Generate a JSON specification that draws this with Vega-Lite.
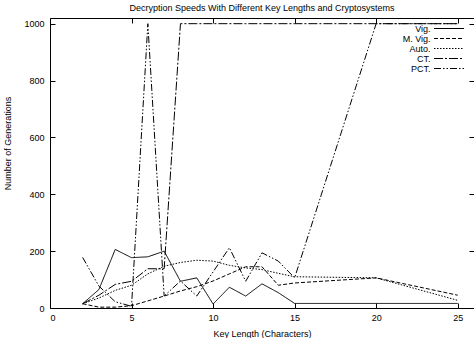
{
  "$schema": "https://vega.github.io/schema/vega-lite/v6.json",
  "width": 424,
  "height": 290,
  "autosize": {"type": "none"},
  "padding": {"left": 50, "top": 18, "right": 0, "bottom": 30},
  "title": {"text": "Decryption Speeds With Different Key Lengths and Cryptosystems", "fontSize": 9, "fontWeight": "normal", "font": "Liberation Sans", "offset": 5, "color": "black"},
  "data": {"values": [
    {"k":2,"series":"Vig.","v":15},{"k":3,"series":"Vig.","v":65},{"k":4,"series":"Vig.","v":206},{"k":5,"series":"Vig.","v":177},{"k":6,"series":"Vig.","v":180},{"k":7,"series":"Vig.","v":200},{"k":8,"series":"Vig.","v":94},{"k":9,"series":"Vig.","v":106},{"k":10,"series":"Vig.","v":14},{"k":11,"series":"Vig.","v":73},{"k":12,"series":"Vig.","v":42},{"k":13,"series":"Vig.","v":85},{"k":14,"series":"Vig.","v":54},{"k":15,"series":"Vig.","v":16},{"k":20,"series":"Vig.","v":16},{"k":25,"series":"Vig.","v":16},
    {"k":2,"series":"M. Vig.","v":15},{"k":3,"series":"M. Vig.","v":3},{"k":4,"series":"M. Vig.","v":3},{"k":5,"series":"M. Vig.","v":8},{"k":6,"series":"M. Vig.","v":25},{"k":7,"series":"M. Vig.","v":42},{"k":8,"series":"M. Vig.","v":60},{"k":9,"series":"M. Vig.","v":75},{"k":10,"series":"M. Vig.","v":95},{"k":11,"series":"M. Vig.","v":120},{"k":12,"series":"M. Vig.","v":145},{"k":13,"series":"M. Vig.","v":145},{"k":14,"series":"M. Vig.","v":80},{"k":15,"series":"M. Vig.","v":88},{"k":20,"series":"M. Vig.","v":106},{"k":25,"series":"M. Vig.","v":45},
    {"k":2,"series":"Auto.","v":15},{"k":3,"series":"Auto.","v":35},{"k":4,"series":"Auto.","v":62},{"k":5,"series":"Auto.","v":80},{"k":6,"series":"Auto.","v":120},{"k":7,"series":"Auto.","v":147},{"k":8,"series":"Auto.","v":160},{"k":9,"series":"Auto.","v":168},{"k":10,"series":"Auto.","v":165},{"k":11,"series":"Auto.","v":150},{"k":12,"series":"Auto.","v":141},{"k":13,"series":"Auto.","v":135},{"k":14,"series":"Auto.","v":122},{"k":15,"series":"Auto.","v":110},{"k":20,"series":"Auto.","v":106},{"k":25,"series":"Auto.","v":27},
    {"k":2,"series":"CT.","v":15},{"k":3,"series":"CT.","v":45},{"k":4,"series":"CT.","v":83},{"k":5,"series":"CT.","v":94},{"k":6,"series":"CT.","v":138},{"k":7,"series":"CT.","v":138},{"k":8,"series":"CT.","v":1000},{"k":9,"series":"CT.","v":1000},{"k":10,"series":"CT.","v":1000},{"k":11,"series":"CT.","v":1000},{"k":12,"series":"CT.","v":1000},{"k":13,"series":"CT.","v":1000},{"k":14,"series":"CT.","v":1000},{"k":15,"series":"CT.","v":1000},{"k":20,"series":"CT.","v":1000},{"k":25,"series":"CT.","v":1000},
    {"k":2,"series":"PCT.","v":178},{"k":3,"series":"PCT.","v":77},{"k":4,"series":"PCT.","v":22},{"k":5,"series":"PCT.","v":6},{"k":6,"series":"PCT.","v":1000},{"k":7,"series":"PCT.","v":42},{"k":8,"series":"PCT.","v":95},{"k":9,"series":"PCT.","v":42},{"k":10,"series":"PCT.","v":127},{"k":11,"series":"PCT.","v":212},{"k":12,"series":"PCT.","v":94},{"k":13,"series":"PCT.","v":194},{"k":14,"series":"PCT.","v":165},{"k":15,"series":"PCT.","v":106},{"k":20,"series":"PCT.","v":1000},{"k":25,"series":"PCT.","v":1000}
  ]},
  "layer": [
    {
      "mark": {"type": "line", "color": "black", "strokeWidth": 1},
      "encoding": {
        "x": {"field": "k", "type": "quantitative", "scale": {"domain": [0, 26], "nice": false, "zero": false},
              "axis": {"values": [0,5,10,15,20,25], "format": "d", "title": "Key Length (Characters)", "grid": false, "domain": false, "tickSize": -5, "labelPadding": 10, "tickColor": "black", "labelColor": "black", "titleColor": "black", "titleFontWeight": "normal", "labelFontSize": 9, "titleFontSize": 9, "labelFont": "Liberation Sans", "titleFont": "Liberation Sans", "titleY": 25, "titleBaseline": "middle"}},
        "y": {"field": "v", "type": "quantitative", "scale": {"domain": [0, 1020], "nice": false},
              "axis": {"values": [0,200,400,600,800,1000], "format": "d", "title": "Number of Generations", "grid": false, "domain": false, "tickSize": -5, "labelPadding": 11, "tickColor": "black", "labelColor": "black", "titleColor": "black", "titleFontWeight": "normal", "labelFontSize": 9, "titleFontSize": 9, "labelFont": "Liberation Sans", "titleFont": "Liberation Sans", "titleX": -38, "titleY": 125}},
        "strokeDash": {"field": "series", "type": "nominal",
          "scale": {"domain": ["Vig.", "M. Vig.", "Auto.", "CT.", "PCT."], "range": [[1,0],[4,2],[1.5,1.5],[9,2,2,2],[7,2,1.5,2,1.5,2]]},
          "legend": {"orient": "none", "legendX": 394.5, "legendY": 6, "title": null, "symbolType": "M-5,0H5", "symbolSize": 36, "symbolStrokeWidth": 1, "symbolStrokeColor": "black", "labelAlign": "right", "labelOffset": -23, "labelFontSize": 9, "labelFont": "Liberation Sans", "labelColor": "black", "padding": 0, "rowPadding": 0}}
      }
    },
    {
      "mark": {"type": "line", "opacity": 0},
      "encoding": {
        "x": {"field": "k", "type": "quantitative", "axis": {"orient": "top", "values": [0,5,10,15,20,25], "labels": false, "title": null, "grid": false, "domain": false, "tickSize": -5, "tickColor": "black"}},
        "y": {"field": "v", "type": "quantitative", "axis": {"orient": "right", "values": [0,200,400,600,800,1000], "labels": false, "title": null, "grid": false, "domain": false, "tickSize": -5, "tickColor": "black"}},
        "detail": {"field": "series", "type": "nominal"}
      }
    }
  ],
  "resolve": {"axis": {"x": "independent", "y": "independent"}},
  "config": {"view": {"stroke": "black", "strokeWidth": 1}, "font": "Liberation Sans"}
}
